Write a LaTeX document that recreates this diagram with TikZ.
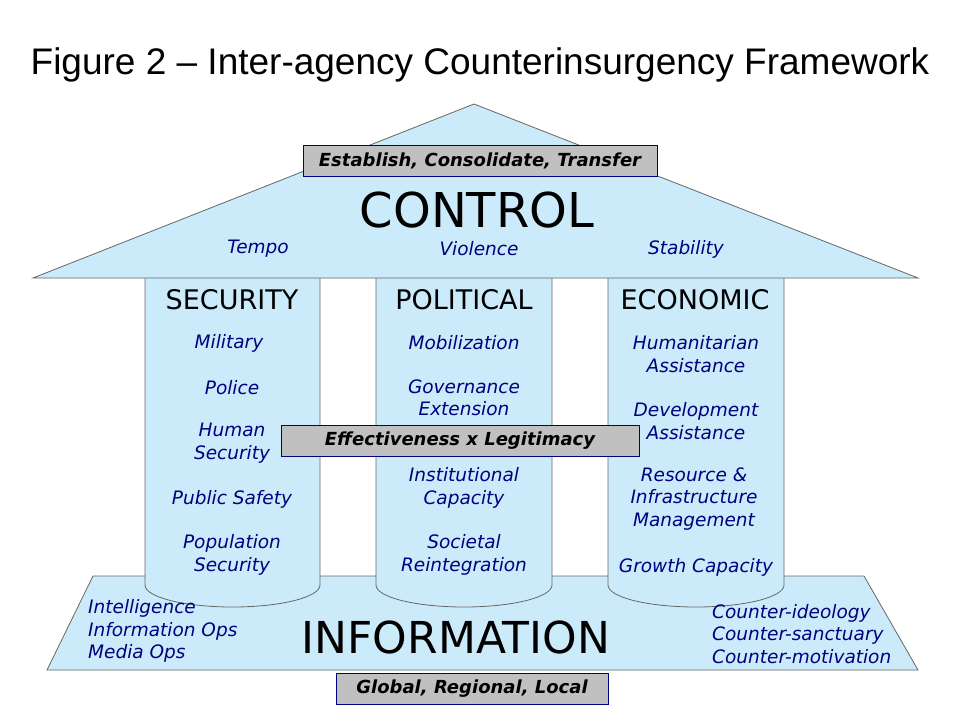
\documentclass[tikz,border=0pt]{standalone}
\usepackage{fontspec}
\setmainfont{DejaVu Sans}
\newfontfamily\titlefont{Liberation Sans}
\begin{document}
\begin{tikzpicture}[x=1pt,y=-1pt]
\definecolor{lb}{HTML}{CCEBFA}
\definecolor{nv}{HTML}{000080}
\definecolor{gb}{HTML}{C0C0C0}
\tikzset{
 part/.style={fill=lb,draw=black!60,line width=0.8pt},
 item/.style={text=nv,font=\fontsize{18.5}{22.5}\selectfont\itshape,align=center},
 head/.style={font=\fontsize{27}{30}\selectfont},
 gbox/.style={fill=gb,draw=nv,line width=0.8pt,font=\fontsize{18}{21}\selectfont\bfseries\itshape,minimum height=31pt,inner sep=0pt}
}
\useasboundingbox (0,0) rectangle (960,720);
\fill[white] (0,0) rectangle (960,720);
\node[font=\titlefont\fontsize{37}{40}\selectfont] (title) at (480,65) {Figure 2 – Inter-agency Counterinsurgency Framework};
% base
\path[part] (93,576) -- (864,576) -- (918,670) -- (47,670) -- cycle;
% pillars
\foreach \a/\b in {145/320,376/552,608/784}{
 \path[part] (\a,270) -- (\a,585) arc[start angle=180,end angle=0,x radius={(\b-\a)/2},y radius=22] -- (\b,270) -- cycle;
}
% roof
\path[part] (474,104) -- (918,278) -- (33,278) -- cycle;
\node[gbox,minimum width=354pt] (ect) at (480,161) {Establish, Consolidate, Transfer};
\node[font=\fontsize{48}{52}\selectfont] (control) at (477,210) {CONTROL};
\node[item] (tempo) at (258,249) {Tempo};
\node[item] (violence) at (479,249) {Violence};
\node[item] (stab) at (686,249) {Stability};
\node[head] (sec) at (232,300) {SECURITY};
\node[head] (pol) at (464,300) {POLITICAL};
\node[head] (eco) at (695,300) {ECONOMIC};
\node[item] (s1) at (229,343) {Military};
\node[item] (s2) at (232,388) {Police};
\node[item] (s3) at (232,443) {Human\\ Security};
\node[item] (s4) at (232,499) {Public Safety};
\node[item] (s5) at (232,555) {Population\\ Security};
\node[item] (p1) at (464,343) {Mobilization};
\node[item] (p2) at (464,398) {Governance\\Extension};
\node[item] (p3) at (464,488) {Institutional\\Capacity};
\node[item] (p4) at (464,555) {Societal\\Reintegration};
\node[item] (e1) at (696,354) {Humanitarian\\Assistance};
\node[item] (e2) at (696,421) {Development\\Assistance};
\node[item] (e3) at (694,499) {Resource \&\\Infrastructure\\Management};
\node[item] (e4) at (696,567) {Growth Capacity};
\node[gbox,minimum width=358pt] (el) at (460,441) {Effectiveness x Legitimacy};
\node[font=\fontsize{44}{48}\selectfont] (info) at (456,637) {INFORMATION};
\node[item,align=left,anchor=west,inner sep=0pt] (left) at (88,631) {Intelligence\\Information Ops\\Media Ops};
\node[item,align=left,anchor=west,inner sep=0pt] (right) at (712,634) {Counter-ideology\\Counter-sanctuary\\Counter-motivation};
\node[gbox,minimum width=272pt] (grl) at (472,689) {Global, Regional, Local};
\end{tikzpicture}
\end{document}
